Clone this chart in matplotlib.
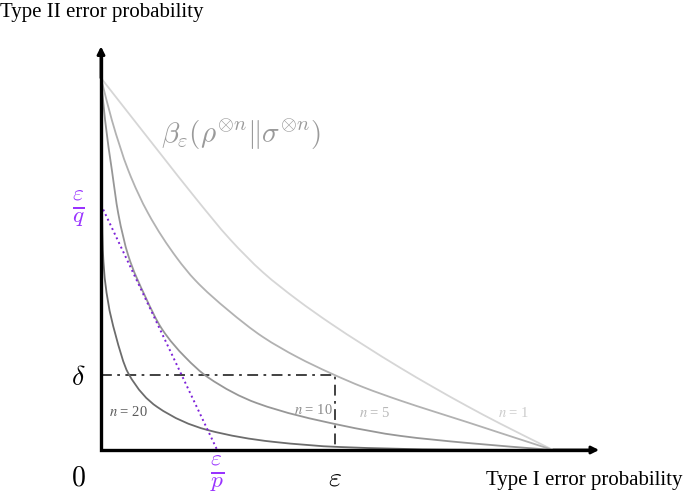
import matplotlib
matplotlib.use("Agg")
import matplotlib.pyplot as plt
from matplotlib.path import Path
from matplotlib.patches import PathPatch

# curves (type I error, type II error), normalised to [0, 1]
x_n1 = [0, 0.060, 0.135, 0.208, 0.285, 0.358, 0.434, 0.507, 0.580, 0.662, 0.735, 0.810, 0.883, 1]
y_n1 = [1, 0.907, 0.791, 0.679, 0.567, 0.478, 0.404, 0.341, 0.283, 0.221, 0.169, 0.118, 0.071, 0]

x_n5 = [0, 0.024, 0.060, 0.104, 0.168, 0.208, 0.281, 0.358, 0.434, 0.507, 0.580, 0.662, 0.735, 0.810, 0.883, 1]
y_n5 = [1, 0.887, 0.753, 0.637, 0.516, 0.457, 0.376, 0.304, 0.250, 0.207, 0.169, 0.133, 0.104, 0.075, 0.046, 0]

x_n10 = [0, 0.009, 0.024, 0.038, 0.060, 0.097, 0.135, 0.186, 0.237, 0.345, 0.529, 0.662, 0.810, 1]
y_n10 = [1, 0.887, 0.753, 0.637, 0.524, 0.415, 0.325, 0.250, 0.195, 0.126, 0.067, 0.038, 0.019, 0]

x_n20 = [0, 0.001, 0.002, 0.004, 0.015, 0.031, 0.060, 0.124, 0.235, 0.381, 0.529, 0.772, 1]
y_n20 = [1, 0.806, 0.672, 0.538, 0.403, 0.315, 0.207, 0.116, 0.054, 0.022, 0.008, 0.001, 0]

eps = 0.518
delta = 0.202
eps_over_q = 0.659
eps_over_p = 0.257

curves = [(x_n1, y_n1, "#d6d6d6"), (x_n5, y_n5, "#b2b2b2"),
          (x_n10, y_n10, "#979797"), (x_n20, y_n20, "#6c6c6c")]


def smooth_path(xs, ys):
    # monotone cubic (Fritsch-Butland) through the read points, drawn as Bezier segments
    n = len(xs)
    h = [xs[i + 1] - xs[i] for i in range(n - 1)]
    d = [(ys[i + 1] - ys[i]) / h[i] for i in range(n - 1)]
    m = [d[0]] + [0.0] * (n - 2) + [d[-1]]
    for k in range(1, n - 1):
        if d[k - 1] * d[k] > 0:
            w1 = 2 * h[k] + h[k - 1]
            w2 = h[k] + 2 * h[k - 1]
            m[k] = (w1 + w2) / (w1 / d[k - 1] + w2 / d[k])
    verts = [(xs[0], ys[0])]
    codes = [Path.MOVETO]
    for i in range(n - 1):
        verts += [(xs[i] + h[i] / 3, ys[i] + m[i] * h[i] / 3),
                  (xs[i + 1] - h[i] / 3, ys[i + 1] - m[i + 1] * h[i] / 3),
                  (xs[i + 1], ys[i + 1])]
        codes += [Path.CURVE4] * 3
    return Path(verts, codes)


fig = plt.figure(figsize=(6.85, 4.97), dpi=100)
ax = fig.add_axes([0, 0, 1, 1])
ax.set_xlim(-101 / 452, 584 / 452)
ax.set_ylim(-47 / 372, 450 / 372)
ax.axis("off")

for xs, ys, c in curves:
    ax.add_patch(PathPatch(smooth_path(xs, ys), facecolor="none", edgecolor=c, lw=1.3,
                           zorder=3))

# epsilon/delta box
ax.plot([0, eps, eps], [delta, delta, 0], color="#333333", lw=1.3,
        linestyle=(0, (6, 3, 1.5, 3)), zorder=2)

# purple bound
ax.plot([0, eps_over_p], [eps_over_q, 0], color="#7d22d8", lw=1.4, linestyle=":", zorder=4)

# axes with arrows
ax.plot([0, 0, 1.08], [1.06, 0, 0], color="black", lw=2.4, solid_joinstyle="miter", zorder=5)
ax.annotate("", xy=(0, 1.085), xytext=(0, 1.0),
            arrowprops=dict(arrowstyle="-|>", color="black", lw=2.0, mutation_scale=11,
                            shrinkA=0, shrinkB=0), zorder=6)
ax.annotate("", xy=(1.102, 0), xytext=(1.0, 0),
            arrowprops=dict(arrowstyle="-|>", color="black", lw=2.0, mutation_scale=11,
                            shrinkA=0, shrinkB=0), zorder=6)

serif = "Liberation Serif"
fig.text(0.0, 1 - 12 / 497, "Type II error probability", family=serif, fontsize=15,
         ha="left", va="center")
fig.text(1 - 3 / 685, 1 - 481 / 497, "Type I error probability", family=serif, fontsize=15,
         ha="right", va="center")

ax.text(-0.051, -0.075, r"$0$", fontsize=20, ha="center", va="center", math_fontfamily="cm")
ax.text(-0.051, 0.196, r"$\delta$", fontsize=20, ha="center", va="center", math_fontfamily="cm")
ax.text(eps, -0.075, r"$\varepsilon$", fontsize=20, ha="center", va="center", math_fontfamily="cm")
ax.text(-0.051, 0.650, r"$\frac{\varepsilon}{q}$", fontsize=24, ha="center", va="center",
        color="#9933ff", math_fontfamily="cm")
ax.text(eps_over_p, -0.064, r"$\frac{\varepsilon}{p}$", fontsize=24, ha="center", va="center",
        color="#9933ff", math_fontfamily="cm")

ax.text(0.31, 0.848, r"$\beta_\varepsilon(\rho^{\otimes n}\|\sigma^{\otimes n})$", fontsize=21,
        ha="center", va="center", color="#9a9a9a", math_fontfamily="cm")

labels = [(0.060, 0.102, r"$n$ = 20", "#5a5a5a"), (0.469, 0.108, r"$n$ = 10", "#8a8a8a"),
          (0.606, 0.099, r"$n$ = 5", "#b8b8b8"), (0.912, 0.099, r"$n$ = 1", "#cccccc")]
for lx, ly, s, c in labels:
    ax.text(lx, ly, s, fontsize=10.5, family=serif, ha="center", va="center", color=c,
            math_fontfamily="stix")

fig.savefig("out.png", dpi=100, facecolor="white")
